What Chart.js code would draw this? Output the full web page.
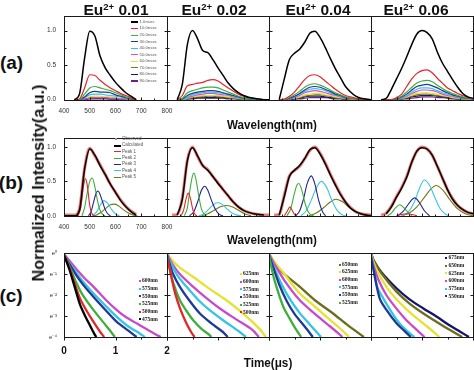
<!DOCTYPE html>
<html>
<head>
<meta charset="utf-8">
<script src="https://cdn.jsdelivr.net/npm/chart.js@4.4.1/dist/chart.umd.min.js"></script>
<style>
  body { margin:0; width:474px; height:370px; background:#fff; position:relative; overflow:hidden; font-family:"Liberation Sans", Arial, sans-serif; }
  canvas { position:absolute; }
  .lbl { position:absolute; line-height:1; white-space:nowrap; font-weight:bold; color:#111; }
  .leg { position:absolute; line-height:1; white-space:nowrap; }
  .mk { position:absolute; }
</style>
</head>
<body>
<script>
// ---- data ----
const concLabels = ['0.01', '0.02', '0.04', '0.06'];

// (a) time-resolved spectra, normalized, 20 nm grid
const wlA = [440,460,480,500,520,540,560,580,600,620,640,660,680,700,720,740,760,780,800];
const delayLabels = ['1.0nsec','10.0nsec','20.0nsec','30.0nsec','40.0nsec','50.0nsec','60.0nsec','70.0nsec','80.0nsec','90.0nsec'];

const specA1 = [
  [0,0.08,0.6,0.99,0.92,0.63,0.46,0.35,0.25,0.17,0.1,0.05,0],
  [0,0.01,0.17,0.36,0.35,0.28,0.22,0.17,0.13,0.09,0.06,0.03,0],
  [0,0,0.08,0.17,0.19,0.17,0.15,0.13,0.1,0.07,0.04,0.02,0],
  [0,0,0.04,0.1,0.12,0.11,0.11,0.1,0.07,0.05,0.03,0.01,0],
  [0,0,0.03,0.07,0.08,0.08,0.07,0.06,0.05,0.04,0.02,0.01,0],
  [0,0,0.01,0.02,0.03,0.03,0.03,0.02,0.02,0.01,0.01,0,0],
  [0,0,0.02,0.04,0.05,0.05,0.04,0.04,0.03,0.02,0.01,0,0],
  [0,0,0.01,0.03,0.03,0.03,0.03,0.02,0.02,0.01,0.01,0,0],
  [0,0,0.01,0.02,0.02,0.02,0.02,0.01,0.01,0.01,0,0,0],
  [0,0,0,0.01,0.01,0.01,0.01,0.01,0.01,0,0,0,0]
];
const specA2 = [
  [0,0.22,0.8,1.0,0.88,0.71,0.68,0.58,0.46,0.35,0.24,0.16,0.1,0.06,0.035,0.02,0.01,0,0],
  [0,0.06,0.2,0.22,0.24,0.25,0.28,0.29,0.27,0.22,0.17,0.12,0.08,0.05,0.03,0.02,0.01,0,0],
  [0,0.02,0.1,0.13,0.15,0.17,0.18,0.18,0.17,0.14,0.11,0.08,0.05,0.03,0.02,0.01,0,0,0],
  [0,0.01,0.06,0.09,0.11,0.12,0.13,0.13,0.12,0.1,0.08,0.06,0.04,0.02,0.01,0.01,0,0,0],
  [0,0,0.04,0.07,0.09,0.1,0.11,0.11,0.1,0.09,0.07,0.05,0.03,0.02,0.01,0,0,0,0],
  [0,0,0.03,0.05,0.07,0.08,0.09,0.09,0.08,0.07,0.06,0.04,0.03,0.02,0.01,0,0,0,0],
  [0,0,0.02,0.04,0.05,0.06,0.06,0.06,0.06,0.05,0.04,0.03,0.02,0.01,0.01,0,0,0,0],
  [0,0,0.01,0.03,0.04,0.04,0.05,0.05,0.04,0.04,0.03,0.02,0.02,0.01,0,0,0,0,0],
  [0,0,0.01,0.02,0.03,0.03,0.03,0.03,0.03,0.03,0.02,0.02,0.01,0.01,0,0,0,0,0],
  [0,0,0.01,0.01,0.02,0.02,0.02,0.02,0.02,0.02,0.01,0.01,0.01,0,0,0,0,0,0]
];
const specA3 = [
  [0,0.3,0.58,0.67,0.73,0.83,0.96,0.99,0.9,0.76,0.6,0.45,0.32,0.19,0.11,0.05,0.02,0.01,0],
  [0,0.01,0.05,0.11,0.2,0.29,0.35,0.36,0.33,0.27,0.21,0.15,0.1,0.06,0.04,0.02,0.01,0,0],
  [0,0,0.03,0.07,0.12,0.18,0.22,0.23,0.21,0.18,0.14,0.1,0.07,0.04,0.02,0.01,0.01,0,0],
  [0,0,0.02,0.05,0.09,0.14,0.18,0.19,0.18,0.15,0.12,0.08,0.06,0.03,0.02,0.01,0,0,0],
  [0,0,0.02,0.04,0.08,0.12,0.15,0.16,0.15,0.13,0.1,0.07,0.05,0.03,0.02,0.01,0,0,0],
  [0,0,0.01,0.03,0.06,0.1,0.12,0.13,0.12,0.1,0.08,0.06,0.04,0.02,0.01,0.01,0,0,0],
  [0,0,0.01,0.02,0.04,0.07,0.08,0.09,0.09,0.07,0.06,0.04,0.03,0.02,0.01,0,0,0,0],
  [0,0,0.01,0.02,0.03,0.05,0.06,0.07,0.07,0.06,0.05,0.03,0.02,0.01,0.01,0,0,0,0],
  [0,0,0,0.01,0.02,0.04,0.05,0.05,0.05,0.04,0.03,0.02,0.02,0.01,0,0,0,0,0],
  [0,0,0,0.01,0.01,0.02,0.03,0.03,0.03,0.03,0.02,0.01,0.01,0,0,0,0,0,0]
];
const specA4 = [
  [0,0.02,0.15,0.3,0.45,0.62,0.8,0.95,1.0,0.97,0.88,0.69,0.53,0.41,0.29,0.18,0.09,0.04,0.02],
  [0,0,0,0.03,0.08,0.19,0.3,0.38,0.42,0.43,0.39,0.31,0.24,0.17,0.13,0.09,0.06,0.03,0.01],
  [0,0,0,0.02,0.05,0.11,0.18,0.24,0.27,0.28,0.26,0.21,0.16,0.12,0.09,0.06,0.04,0.02,0.01],
  [0,0,0,0.01,0.04,0.08,0.14,0.19,0.21,0.22,0.2,0.17,0.13,0.1,0.07,0.05,0.03,0.02,0.01],
  [0,0,0,0.01,0.03,0.06,0.11,0.15,0.17,0.17,0.16,0.13,0.1,0.08,0.06,0.04,0.02,0.01,0],
  [0,0,0,0.01,0.02,0.05,0.09,0.12,0.14,0.14,0.13,0.11,0.08,0.06,0.05,0.03,0.02,0.01,0],
  [0,0,0,0.01,0.02,0.04,0.07,0.09,0.1,0.1,0.09,0.08,0.06,0.05,0.03,0.02,0.01,0.01,0],
  [0,0,0,0,0.01,0.03,0.05,0.07,0.08,0.08,0.07,0.06,0.05,0.04,0.03,0.02,0.01,0,0],
  [0,0,0,0,0.01,0.02,0.04,0.05,0.06,0.06,0.06,0.05,0.04,0.03,0.02,0.01,0.01,0,0],
  [0,0,0,0,0.01,0.01,0.02,0.03,0.04,0.04,0.04,0.03,0.03,0.02,0.01,0.01,0,0,0]
];

// (b) gaussian deconvolution
const wlB = [400,420,440,460,480,500,520,540,560,580,600,620,640,660,680,700,720,740,760,780,800];
const fitLabels = ['Observed', 'Calculated', 'Peak 1', 'Peak 2', 'Peak 3', 'Peak 4', 'Peak 5'];
const obsB1 = [0.01,0.01,0.01,0.1,0.69,0.98,0.87,0.74,0.6,0.46,0.34,0.23,0.14,0.07,0.02];
const calcB1 = [0,0,0,0.08,0.68,0.97,0.88,0.73,0.6,0.46,0.34,0.22,0.13,0.06,0.01];
const obsB2 = [null,0.01,0.02,0.26,0.81,1.0,0.86,0.73,0.67,0.57,0.48,0.38,0.29,0.2,0.13,0.08,0.05,0.03,0.02,0.01,0.01];
const calcB2 = [null,null,0.01,0.24,0.8,0.99,0.87,0.73,0.66,0.57,0.47,0.38,0.29,0.2,0.13,0.08,0.05,0.03,0.02,0.01];
const obsB3 = [null,0.01,0.02,0.3,0.58,0.66,0.72,0.83,0.95,1.0,0.91,0.77,0.61,0.46,0.32,0.2,0.12,0.06,0.03,0.02,0.01];
const calcB3 = [null,null,0.01,0.28,0.57,0.66,0.73,0.83,0.96,0.99,0.9,0.76,0.6,0.45,0.31,0.2,0.11,0.06,0.03,0.01,0];
const obsB4 = [null,null,0.01,0.04,0.14,0.28,0.41,0.57,0.78,0.94,1.0,0.97,0.88,0.72,0.55,0.38,0.25,0.15,0.09,0.05,0.03];
const calcB4 = [null,null,null,0.03,0.13,0.27,0.4,0.56,0.78,0.94,0.99,0.97,0.88,0.72,0.55,0.38,0.24,0.15,0.09,0.05,0.03];
// peaks as [nm, intensity]
const peaksB1 = [
  [[455,0],[465,0.12],[475,0.42],[483,0.54],[490,0.45],[500,0.15],[510,0.02],[520,0]],
  [[470,0],[480,0.12],[490,0.33],[500,0.5],[510,0.55],[520,0.42],[530,0.22],[540,0.08],[550,0.02],[560,0]],
  [[495,0],[505,0.06],[515,0.2],[525,0.33],[532,0.36],[540,0.31],[550,0.2],[560,0.09],[570,0.03],[580,0]],
  [[510,0],[525,0.05],[540,0.15],[555,0.22],[570,0.18],[585,0.09],[600,0.03],[615,0]],
  [[520,0],[540,0.04],[560,0.1],[580,0.16],[595,0.17],[610,0.15],[630,0.09],[650,0.04],[670,0.01],[685,0]]
];
const peaksB2 = [
  [[455,0],[465,0.08],[475,0.25],[483,0.33],[492,0.25],[502,0.08],[512,0.01],[518,0]],
  [[468,0],[480,0.12],[490,0.38],[500,0.58],[506,0.62],[515,0.5],[525,0.28],[535,0.1],[545,0.03],[555,0]],
  [[488,0],[505,0.06],[520,0.2],[535,0.37],[548,0.43],[560,0.37],[575,0.22],[590,0.09],[605,0.02],[620,0]],
  [[525,0],[545,0.03],[565,0.1],[585,0.17],[600,0.19],[615,0.17],[635,0.1],[655,0.04],[675,0.01],[690,0]],
  [[535,0],[560,0.03],[585,0.08],[610,0.13],[632,0.15],[655,0.13],[680,0.08],[705,0.03],[730,0]]
];
const peaksB3 = [
  [[460,0],[472,0.07],[482,0.13],[492,0.07],[502,0.01],[510,0]],
  [[470,0],[485,0.1],[498,0.3],[510,0.45],[517,0.47],[528,0.38],[540,0.2],[552,0.07],[565,0.01],[575,0]],
  [[505,0],[520,0.07],[535,0.24],[550,0.47],[566,0.58],[580,0.46],[595,0.22],[610,0.06],[622,0]],
  [[525,0],[545,0.07],[565,0.22],[585,0.4],[605,0.5],[625,0.42],[645,0.24],[665,0.09],[685,0.02],[700,0]],
  [[555,0],[585,0.04],[615,0.12],[640,0.2],[663,0.24],[690,0.2],[715,0.12],[745,0.05],[775,0.01],[790,0]]
];
const peaksB4 = [
  [[500,0],[520,0.02],[540,0.03],[560,0.02],[580,0]],
  [[465,0],[480,0.04],[495,0.11],[512,0.16],[528,0.12],[545,0.05],[560,0]],
  [[505,0],[525,0.06],[545,0.16],[562,0.24],[572,0.26],[590,0.19],[610,0.07],[630,0]],
  [[520,0],[545,0.05],[570,0.2],[590,0.4],[609,0.52],[630,0.44],[650,0.27],[670,0.11],[690,0.03],[705,0]],
  [[520,0],[550,0.04],[580,0.13],[610,0.27],[635,0.39],[655,0.44],[680,0.38],[710,0.23],[740,0.1],[770,0.03],[800,0]]
];

// (c) decay curves, [time us, ln(I/I0)]
const decayTicks = [0, -1, -2, -3, -4];
const decayTickLabels = ['e⁰', 'e⁻¹', 'e⁻²', 'e⁻³', 'e⁻⁴'];
const timeTicks = [0, 1, 2];
const nmC1 = ['475nm','500nm','525nm','550nm','575nm','600nm'];
const decayC1 = [
  [[0,-0.1],[0.1,-0.75],[0.2,-1.55],[0.31,-2.45],[0.4,-2.95],[0.5,-3.43],[0.6,-3.9],[0.63,-4]],
  [[0,-0.1],[0.1,-0.65],[0.2,-1.4],[0.31,-2.16],[0.45,-2.8],[0.57,-3.27],[0.7,-3.75],[0.78,-4]],
  [[0,-0.1],[0.1,-0.6],[0.2,-1.2],[0.35,-1.95],[0.57,-2.71],[0.83,-3.5],[0.99,-4]],
  [[0,-0.1],[0.1,-0.5],[0.25,-1.1],[0.4,-1.6],[0.57,-2.08],[0.8,-2.7],[1.02,-3.27],[1.25,-3.7],[1.41,-4]],
  [[0,-0.1],[0.1,-0.45],[0.25,-0.98],[0.4,-1.45],[0.57,-1.92],[0.8,-2.5],[1.02,-3.03],[1.25,-3.5],[1.47,-3.83],[1.57,-4]],
  [[0,-0.05],[0.1,-0.35],[0.25,-0.8],[0.4,-1.2],[0.57,-1.6],[0.8,-2.2],[1.02,-2.71],[1.2,-3.05],[1.41,-3.35],[1.6,-3.62],[1.8,-3.9],[1.88,-4]]
];
const nmC2 = ['500nm','525nm','550nm','575nm','600nm','625nm'];
const decayC2 = [
  [[0,-0.2],[0.03,-0.49],[0.1,-1.3],[0.16,-1.92],[0.25,-2.6],[0.38,-3.35],[0.47,-3.75],[0.54,-4]],
  [[0,-0.15],[0.05,-0.7],[0.12,-1.4],[0.25,-2.24],[0.38,-2.75],[0.51,-3.19],[0.67,-3.6],[0.83,-3.9],[0.87,-4]],
  [[0,-0.1],[0.05,-0.5],[0.12,-1.0],[0.25,-1.6],[0.45,-2.3],[0.64,-2.87],[0.87,-3.35],[1.09,-3.75],[1.19,-4]],
  [[0,-0.1],[0.1,-0.6],[0.2,-1.05],[0.38,-1.6],[0.6,-2.2],[0.83,-2.71],[1.1,-3.2],[1.42,-3.75],[1.55,-4]],
  [[0,-0.05],[0.1,-0.5],[0.25,-1.0],[0.51,-1.6],[0.75,-2.1],[1.03,-2.63],[1.35,-3.15],[1.68,-3.67],[1.8,-4]],
  [[0,0],[0.1,-0.35],[0.25,-0.7],[0.51,-1.13],[0.8,-1.65],[1.16,-2.24],[1.5,-2.9],[1.81,-3.6],[1.94,-4]]
];
const nmC3 = ['525nm','550nm','575nm','600nm','625nm','650nm'];
const decayC3 = [
  [[0,-0.1],[0.05,-0.7],[0.12,-1.4],[0.28,-2.56],[0.4,-3.1],[0.52,-3.6],[0.63,-4]],
  [[0,-0.1],[0.1,-0.8],[0.2,-1.5],[0.35,-2.3],[0.5,-2.9],[0.7,-3.5],[0.86,-4]],
  [[0,-0.1],[0.1,-0.7],[0.25,-1.5],[0.41,-2.2],[0.6,-2.85],[0.8,-3.4],[1.02,-4]],
  [[0,-0.05],[0.1,-0.5],[0.3,-1.3],[0.6,-2.24],[0.9,-2.9],[1.2,-3.5],[1.44,-4]],
  [[0,0],[0.1,-0.4],[0.3,-1.0],[0.6,-1.92],[0.9,-2.55],[1.12,-3.03],[1.35,-3.5],[1.57,-4]],
  [[0,0],[0.05,-0.25],[0.25,-0.9],[0.6,-1.6],[0.9,-2.25],[1.25,-2.87],[1.55,-3.45],[1.86,-4]]
];
const nmC4 = ['550nm','575nm','600nm','625nm','650nm','675nm'];
const decayC4 = [
  [[0,-0.2],[0.05,-0.8],[0.17,-2.16],[0.3,-2.7],[0.5,-3.35],[0.65,-3.7],[0.78,-4]],
  [[0,-0.2],[0.05,-0.8],[0.12,-1.6],[0.24,-2.16],[0.4,-2.8],[0.56,-3.35],[0.7,-3.7],[0.85,-4]],
  [[0,-0.1],[0.05,-0.6],[0.15,-1.3],[0.3,-2.0],[0.5,-2.65],[0.69,-3.19],[0.87,-3.6],[1.05,-4]],
  [[0,-0.05],[0.05,-0.45],[0.15,-1.0],[0.37,-1.84],[0.6,-2.45],[0.82,-2.95],[1.1,-3.5],[1.34,-4]],
  [[0,0],[0.05,-0.35],[0.2,-0.95],[0.5,-1.84],[0.75,-2.4],[1.02,-2.87],[1.4,-3.45],[1.79,-4]],
  [[0,0],[0.05,-0.35],[0.2,-0.9],[0.5,-1.68],[0.75,-2.2],[1.02,-2.63],[1.3,-3.05],[1.53,-3.43],[1.75,-3.75],[1.92,-4]]
];

// ---- styles ----
const palA = ['#000000','#e3262b','#3fae3b','#1e3c96','#35c3e6','#d54fd0','#e6df30','#76761e','#16166e','#6e2280'];
const palFit = ['#ec7a7a','#000000','#e3262b','#3fae3b','#23238f','#3ec4e2','#6f7a1c'];
const nmColor = {'475nm':'#000000','500nm':'#e3262b','525nm':'#3fae3b','550nm':'#1d3a95','575nm':'#35c3e6',
                 '600nm':'#c94ac8','625nm':'#e6e232','650nm':'#6d6d1e','675nm':'#14146b'};
const colX = [[64,167],[167,269],[269,371],[371,473]];
const rowA = [16,100], rowB = [138,216.5], rowC = [253,337];

const xy = (xs, ys) => ys.map((v, i) => ({x: xs[i], y: v}));
const pr = ps => ps.map(p => ({x: p[0], y: p[1]}));

const frame = {
  id: 'frame',
  afterDatasetsDraw(chart, args, o) {
    const {ctx, chartArea: a} = chart;
    const sx = chart.scales.x, sy = chart.scales.y;
    const L = Math.round(a.left) + 0.5, R = Math.round(a.right) + 0.5;
    const T = Math.round(a.top) + 0.5, B = Math.round(a.bottom) + 0.5;
    ctx.save();
    ctx.strokeStyle = '#1a1a1a';
    ctx.lineWidth = 1;
    ctx.strokeRect(L, T, R - L, B - T);
    const seg = (x1, y1, x2, y2) => { ctx.beginPath(); ctx.moveTo(x1, y1); ctx.lineTo(x2, y2); ctx.stroke(); };
    const xt = (vals, len) => vals.forEach(v => { const p = Math.round(sx.getPixelForValue(v)) + 0.5; seg(p, B, p, B + o.xDir * len); });
    const yt = (vals, len) => vals.forEach(v => { const p = Math.round(sy.getPixelForValue(v)) + 0.5; seg(L, p, L + len, p); seg(R, p, R - len, p); });
    xt(o.xMajor, 3); xt(o.xMinor, 2);
    yt(o.yMajor, 3); yt(o.yMinor, 2);
    ctx.restore();
  }
};

function makePanel(p) {
  const ML = 32, MR = 10, MT = 6, MB = 24;
  const w = p.x[1] - p.x[0], h = p.y[1] - p.y[0];
  const cv = document.createElement('canvas');
  cv.width = w + ML + MR;
  cv.height = h + MT + MB;
  cv.style.left = (p.x[0] - ML) + 'px';
  cv.style.top = (p.y[0] - MT) + 'px';
  document.body.appendChild(cv);
  const font = {family: 'Liberation Sans', size: p.fs, weight: p.fw};
  const grid = tl => ({display: true, drawOnChartArea: false, drawTicks: true, tickLength: tl, color: 'rgba(0,0,0,0)'});
  return new Chart(cv, {
    type: 'line',
    data: {datasets: p.datasets},
    options: {
      responsive: false, animation: false, devicePixelRatio: 1,
      layout: {padding: {left: 0, right: MR, top: MT, bottom: 0}},
      elements: {point: {radius: 0}, line: {cubicInterpolationMode: 'monotone'}},
      plugins: {
        legend: {display: false}, tooltip: {enabled: false},
        frame: {xMajor: p.xMajor, xMinor: p.xMinor, yMajor: p.yMajor, yMinor: p.yMinor, xDir: p.xDir}
      },
      scales: {
        x: {
          type: 'linear', min: p.xr[0], max: p.xr[1],
          grid: grid(p.xtl), border: {display: false},
          ticks: {display: p.labels, font: p.xfont || font, color: p.xcol || '#333', padding: 1, maxRotation: 0, autoSkip: false, callback: p.xfmt},
          afterBuildTicks: s => { s.ticks = p.xMajor.map(v => ({value: v})); },
          afterFit: s => { s.height = MB; }
        },
        y: {
          type: 'linear', min: p.yr[0], max: p.yr[1],
          grid: grid(p.ytl), border: {display: false},
          ticks: {display: p.labels, font: font, color: '#333', padding: 1, autoSkip: false, callback: p.yfmt},
          afterBuildTicks: s => { s.ticks = p.yMajor.map(v => ({value: v})); },
          afterFit: s => { s.width = ML; }
        }
      }
    },
    plugins: [frame]
  });
}

// ---- row (a) ----  (dataset 0 = black, drawn on top)
[specA1, specA2, specA3, specA4].forEach((spec, i) => {
  makePanel({
    x: colX[i], y: rowA, xr: [400, 800], yr: [-0.005, 1.21],
    xMajor: [400,500,600,700,800], xMinor: [450,550,650,750], yMajor: [0,0.5,1], yMinor: [0.25,0.75], xDir: -1,
    labels: i === 0, fs: 6.5, fw: 'normal', xtl: 6, ytl: 7,
    xfmt: v => String(v), yfmt: v => v.toFixed(1),
    datasets: spec.map((ys, k) => ({label: delayLabels[k], data: xy(wlA, ys), borderColor: palA[k], borderWidth: k === 0 ? 1.5 : 1.2}))
  });
});

// ---- row (b) ----
[[obsB1, calcB1, peaksB1], [obsB2, calcB2, peaksB2], [obsB3, calcB3, peaksB3], [obsB4, calcB4, peaksB4]].forEach((set, i) => {
  const ds = [
    {label: fitLabels[0], data: xy(wlB, set[0]), borderColor: palFit[0], borderWidth: 3, order: 3},
    {label: fitLabels[1], data: xy(wlB, set[1]), borderColor: palFit[1], borderWidth: 1.5, order: 1}
  ];
  set[2].forEach((pk, k) => ds.push({label: fitLabels[k + 2], data: pr(pk), borderColor: palFit[k + 2], borderWidth: 1.1, order: 2}));
  makePanel({
    x: colX[i], y: rowB, xr: [400, 800], yr: [-0.003, 1.13],
    xMajor: [400,500,600,700,800], xMinor: [450,550,650,750], yMajor: [0,0.5,1], yMinor: [0.25,0.75], xDir: -1,
    labels: i === 0, fs: 6.5, fw: 'normal', xtl: 6, ytl: 7,
    xfmt: v => String(v), yfmt: v => v.toFixed(1),
    datasets: ds
  });
});

// ---- row (c) ----
[[decayC1, nmC1], [decayC2, nmC2], [decayC3, nmC3], [decayC4, nmC4]].forEach((set, i) => {
  makePanel({
    x: colX[i], y: rowC, xr: [0, 2], yr: [-4, 0],
    xMajor: timeTicks, xMinor: [0.5, 1.5], yMajor: decayTicks, yMinor: [], xDir: 1,
    labels: i === 0, fs: 6, fw: 'normal', xtl: 7, ytl: 6,
    xfont: {family: 'Liberation Sans', size: 10, weight: 'bold'}, xcol: '#111',
    xfmt: v => String(v), yfmt: v => decayTickLabels[decayTicks.indexOf(v)],
    datasets: set[0].map((ps, k) => ({label: set[1][k], data: pr(ps), borderColor: nmColor[set[1][k]], borderWidth: 2.3, cubicInterpolationMode: 'default', tension: 0.3}))
  });
});

// ---- text ----
function text(html, x, y, size, tf, extra) {
  const d = document.createElement('div');
  d.className = 'lbl';
  d.innerHTML = html;
  d.style.left = x + 'px';
  d.style.top = y + 'px';
  d.style.fontSize = size + 'px';
  d.style.transform = 'translate(-50%,-50%) ' + (tf || '');
  if (extra) Object.assign(d.style, extra);
  document.body.appendChild(d);
}
const titleX = [116, 214, 318, 416];
concLabels.forEach((c, i) => text('Eu<span style="font-size:0.62em;position:relative;top:-0.5em">2+</span> ' + c, titleX[i], 9.5, 15.5));
text('(a)', 11.5, 62, 19);
text('(b)', 11, 181.5, 19);
text('(c)', 11, 295, 19);
text('Wavelength(nm)', 272, 125, 13.5, 'scaleX(0.86)');
text('Wavelength(nm)', 272, 240, 13.5, 'scaleX(0.86)');
text('Time(μs)', 268, 361.5, 13, 'scaleX(0.9)');
text('Normalized Intensity(a.u.)', 38, 183, 16.2, 'rotate(-90deg)');

function legendItem(x, y, label, color, kind, size, fam, weight, tcol, gap) {
  const m = document.createElement('div');
  m.className = 'mk';
  m.style.background = color;
  if (kind === 'line' || kind === 'thick') {
    const th = kind === 'thick' ? 2.2 : 1.2;
    m.style.left = x + 'px'; m.style.width = '6.5px';
    m.style.top = (y - th / 2) + 'px'; m.style.height = th + 'px';
  } else {
    m.style.left = (x + 1) + 'px'; m.style.width = '2px';
    m.style.top = (y - 1) + 'px'; m.style.height = '2px';
  }
  document.body.appendChild(m);
  const t = document.createElement('div');
  t.className = 'leg';
  t.textContent = label;
  t.style.left = (x + gap) + 'px';
  t.style.top = (y - size / 2) + 'px';
  t.style.fontSize = size + 'px';
  t.style.fontFamily = fam;
  t.style.fontWeight = weight;
  t.style.color = tcol;
  document.body.appendChild(t);
}
delayLabels.forEach((l, k) => legendItem(131, 22 + k * 6.55, l, palA[k], 'line', 4.3, 'Liberation Sans', 'normal', '#555', 8.5));
fitLabels.forEach((l, k) => legendItem(114, 139.3 + k * 6.3, l, palFit[k], k === 0 ? 'dot' : (k === 1 ? 'thick' : 'line'), 4.5, 'Liberation Sans', 'normal', '#555', 8));
const legC = [[137.5, 281], [238.5, 274], [337.5, 264.5], [444, 258]];
[nmC1, nmC2, nmC3, nmC4].forEach((nms, i) => {
  nms.slice().reverse().forEach((l, k) => legendItem(legC[i][0], legC[i][1] + k * 7.65, l, nmColor[l], 'dot', 5.5, 'Liberation Serif', 'bold', '#222', 4.5));
});
</script>
</body>
</html>
